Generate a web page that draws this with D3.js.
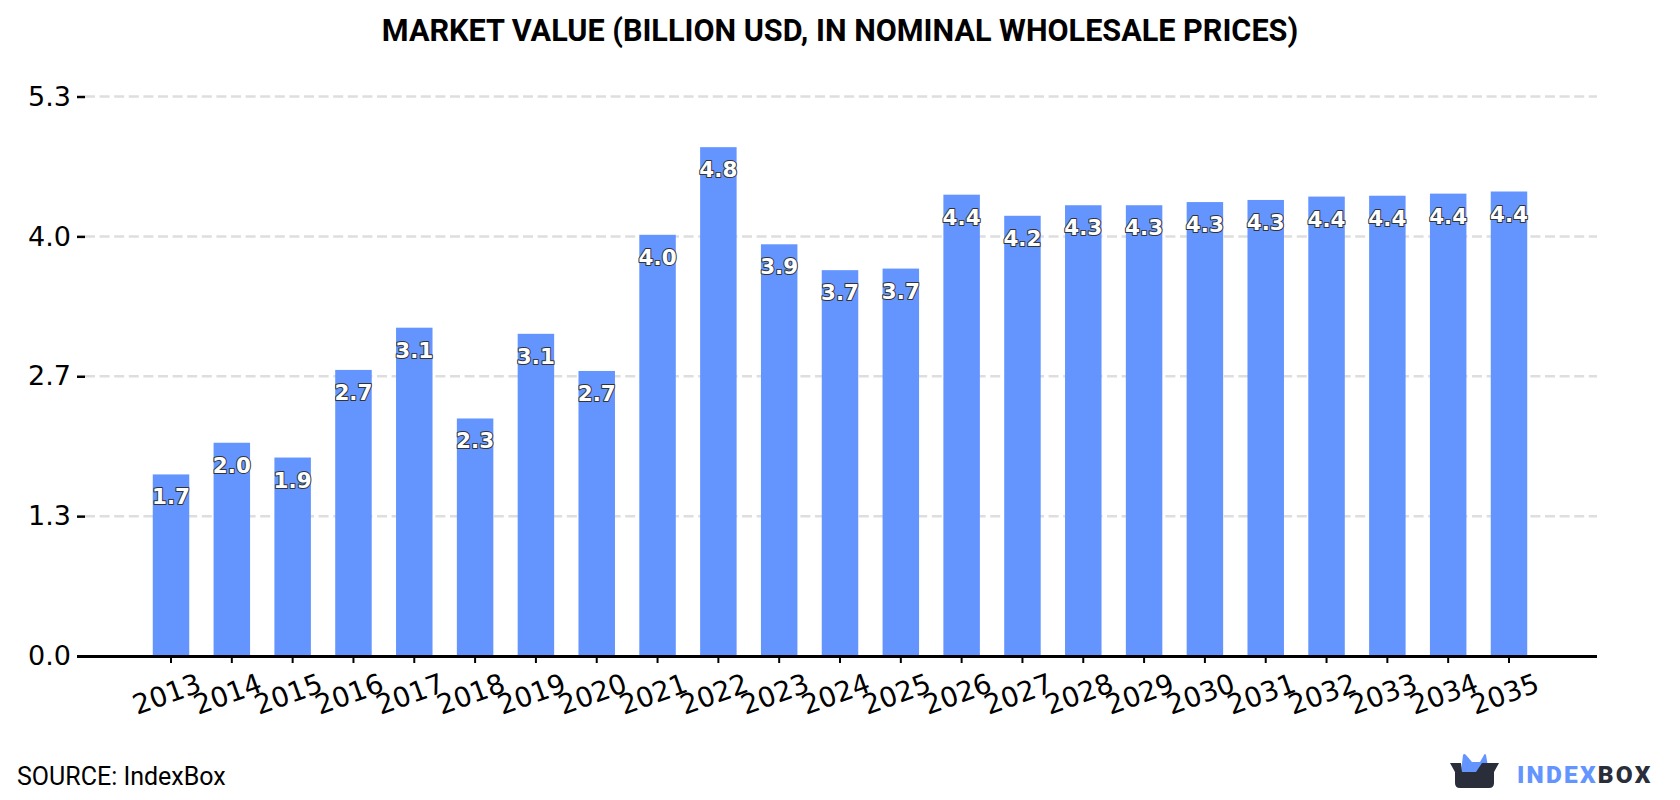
<!DOCTYPE html>
<html>
<head>
<meta charset="utf-8">
<script src="https://cdn.jsdelivr.net/npm/d3@7"></script>
<style>
html,body{margin:0;padding:0;background:#fff;}
svg{display:block;}
</style>
</head>
<body>
<svg id="chart" width="1680" height="800"></svg>
<script>
const years = [2013,2014,2015,2016,2017,2018,2019,2020,2021,2022,2023,2024,2025,2026,2027,2028,2029,2030,2031,2032,2033,2034,2035];
const marketValue = [1.72,2.02,1.88,2.71,3.11,2.25,3.052,2.70,3.99,4.82,3.90,3.655,3.67,4.37,4.17,4.27,4.27,4.30,4.32,4.352,4.36,4.38,4.40];
const yTicks = [0,1.325,2.65,3.975,5.3];
const yTickLabels = ["0.0","1.3","2.7","4.0","5.3"];
const chartTitle = "MARKET VALUE (BILLION USD, IN NOMINAL WHOLESALE PRICES)";
const sourceText = "SOURCE: IndexBox";

const svg = d3.select("#chart");
const left = 85, right = 1597, baseY = 656, topY = 96.5;
const tickFont = "'DejaVu Sans'";

const x = d3.scaleBand().domain(years).range([140.6,1539.4]).paddingInner(0.4).paddingOuter(0.2);
const y = d3.scaleLinear().domain([0,5.3]).range([baseY,topY]);

// Title
svg.append("text").attr("x",840).attr("y",41).attr("text-anchor","middle")
  .attr("font-family","Roboto").attr("font-weight",700).attr("font-size",30.6).attr("fill","#000")
  .text(chartTitle);

// Dashed horizontal gridlines
svg.append("g").selectAll("line").data(yTicks.slice(1)).join("line")
  .attr("x1",left).attr("x2",right)
  .attr("y1",d=>y(d)).attr("y2",d=>y(d))
  .attr("stroke","#dedede").attr("stroke-width",2.5).attr("stroke-dasharray","10 4.6");

// Bars
svg.append("g").selectAll("rect").data(years).join("rect")
  .attr("x",d=>x(d)).attr("width",x.bandwidth())
  .attr("y",(d,i)=>y(marketValue[i])).attr("height",(d,i)=>baseY-y(marketValue[i]))
  .attr("fill","#6495ff");

// Value axis
const yAxis = svg.append("g").attr("transform",`translate(${left},0)`)
  .call(d3.axisLeft(y).tickValues(yTicks).tickSize(8).tickPadding(6).tickFormat((d,i)=>yTickLabels[i]));
yAxis.select(".domain").remove();
yAxis.selectAll(".tick line").attr("stroke","#000").attr("stroke-width",2.5);
yAxis.selectAll(".tick text").attr("font-family",tickFont).attr("font-size",27).attr("fill","#000");

// Year axis with tilted labels
const xAxis = svg.append("g").attr("transform",`translate(0,${baseY})`)
  .call(d3.axisBottom(x).tickSize(7).tickSizeOuter(0).tickFormat(d3.format("d")));
xAxis.select(".domain").remove();
xAxis.selectAll(".tick line").attr("stroke","#000").attr("stroke-width",2);
xAxis.selectAll(".tick text")
  .attr("font-family",tickFont).attr("font-size",27.5).attr("fill","#000")
  .attr("text-anchor","middle").attr("y",0).attr("dy",0)
  .attr("transform","translate(-1,47) rotate(-20)");
svg.append("line").attr("x1",77).attr("x2",1597).attr("y1",baseY+0.5).attr("y2",baseY+0.5)
  .attr("stroke","#000").attr("stroke-width",3);

// Value labels inside the bars
svg.append("g").selectAll("text").data(years).join("text")
  .attr("x",d=>x(d)+x.bandwidth()/2)
  .attr("y",(d,i)=>y(marketValue[i])+30)
  .attr("text-anchor","middle")
  .attr("font-family",tickFont).attr("font-weight",700).attr("font-size",21.5)
  .attr("fill","#fff").attr("stroke","#333").attr("stroke-width",2)
  .attr("paint-order","stroke").attr("stroke-linejoin","round")
  .text((d,i)=>d3.format(".1f")(marketValue[i]));

// Source note
svg.append("text").attr("x",17).attr("y",785)
  .attr("font-family","Roboto").attr("font-size",25).attr("fill","#000")
  .text(sourceText);

// IndexBox logo
const logo = svg.append("g");
logo.append("path").attr("fill","#6495ff")
  .attr("d","M1461 772 L1463 755 Q1464 753 1466 755 L1472 762 L1480 762 L1484 755 Q1485 753 1486 755 L1489 772 Z");
logo.append("path").attr("fill","#2a2d3a")
  .attr("d","M1450 763 L1461 763 L1462 772 L1476 772 L1482 763 L1499 763 L1494 772 L1494 783 Q1494 788 1489 788 L1460 788 Q1455 788 1455 783 L1455 772 Z");
const logoText = logo.append("text").attr("x",1517).attr("y",783)
  .attr("font-family","Roboto").attr("font-weight",900).attr("font-size",24.5).attr("letter-spacing",2.2);
logoText.append("tspan").attr("fill","#6495ff").text("INDEX");
logoText.append("tspan").attr("fill","#2a2d3a").text("BOX");
</script>
</body>
</html>
